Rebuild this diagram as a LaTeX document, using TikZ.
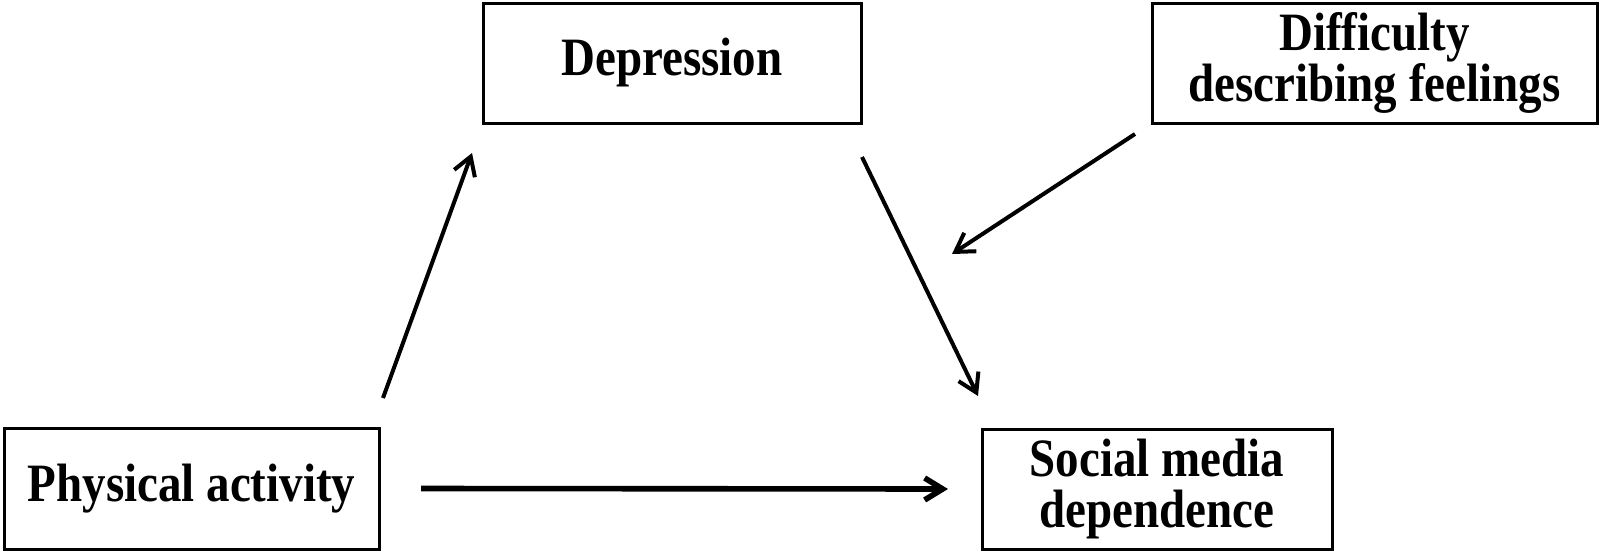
\documentclass[tikz,border=0pt]{standalone}
\usepackage{fontspec}
\setmainfont[FakeStretch=0.87]{Liberation Serif}
\usetikzlibrary{calc, arrows.meta}

\begin{document}
\begin{tikzpicture}[
  % Pixel grid, y pointing down
  x=0.5pt,
  y=-0.5pt,
  font=\fontsize{27}{25.5}\selectfont\bfseries,
  box/.style={draw, line width=1.5pt, inner sep=0pt, outer sep=0pt,
    align=center, minimum height=60pt},
  arr/.style={-{Straight Barb[length=9pt, width=11pt]}, line width=2pt}
]
  \useasboundingbox (0,0) rectangle (1600,552);

  % Variables
  \node[box, minimum width=189pt] (dep) at (672,63) {Depression};
  \node[box, minimum width=222.5pt] (diff) at (1374.5,63) {Difficulty\\describing feelings};
  \node[box, minimum width=187.5pt, minimum height=60.5pt] (pa) at (191.5,488.5) {Physical activity};
  \node[box, minimum width=175pt] (smd) at (1157,489) {Social media\\dependence};

  % Free end of the moderating path
  \coordinate (mod) at (952,254);

  % Paths
  \draw[arr] ($(pa.north east)+(4,-30)$) -- ($(dep.south west)+(-11,30)$);
  \draw[arr] ($(dep.south east)+(1,34)$) -- ($(smd.north west)+(-4,-33)$);
  \draw[arr] ($(diff.south west)+(-17,11)$) -- (mod);
  \draw[arr, line width=2.8pt] ($(pa.east)+(42,0)$) -- ($(smd.west)+(-34,0)$);
\end{tikzpicture}
\end{document}
